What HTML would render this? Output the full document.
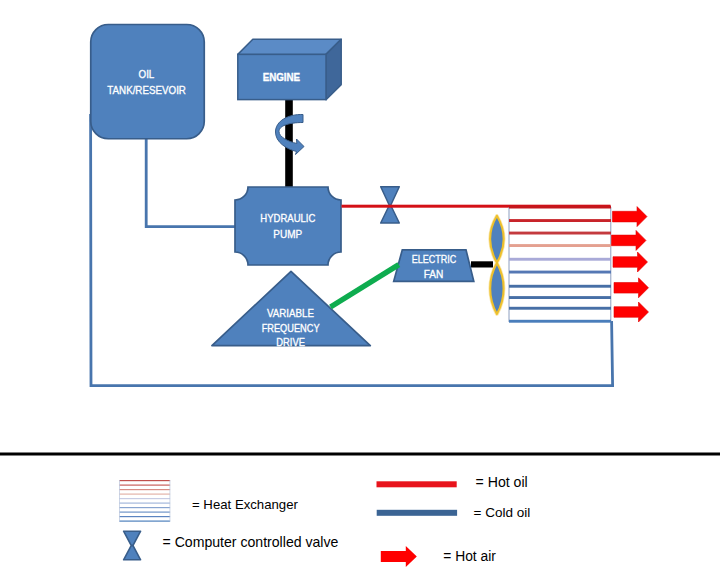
<!DOCTYPE html>
<html>
<head>
<meta charset="utf-8">
<title>Hydraulic fan drive diagram</title>
<style>
html,body{margin:0;padding:0;background:#fff;}
body{width:720px;height:568px;overflow:hidden;}
svg{display:block;}
text{font-family:"Liberation Sans",sans-serif;}
.w{fill:#fff;font-size:10.2px;text-anchor:middle;stroke:#fff;stroke-width:0.3;}
.k{fill:#000;font-size:13.2px;}
.s{fill:#4f81bd;stroke:#385d8a;stroke-width:1.7;stroke-linejoin:miter;}
.p{fill:none;stroke:#4875ad;stroke-width:2.8;}
</style>
</head>
<body>
<svg width="720" height="568" viewBox="0 0 720 568">
<rect x="0" y="0" width="720" height="568" fill="#fff"/>

<!-- cold oil pipes -->
<path class="p" d="M90.6,114 L91,385.6 H612.6 L611.6,321"/>
<path class="p" d="M146.2,139 V226.6 H235"/>

<!-- oil tank -->
<rect class="s" x="90.75" y="24.5" width="113.5" height="114.25" rx="17.5" ry="17.5"/>
<text class="w" transform="translate(146.4,77.6) scale(0.96,1)">OIL</text>
<text class="w" transform="translate(146.6,93.6) scale(0.96,1)">TANK/RESEVOIR</text>

<!-- shaft -->
<rect x="285.2" y="99" width="7.6" height="88" fill="#000"/>

<!-- engine cube -->
<path d="M237.8,54.4 L252.8,39.2 H341.2 L326,54.4 Z" fill="#5b8bc6" stroke="#385d8a" stroke-width="1.5" stroke-linejoin="round"/>
<path d="M326,54.4 L341.2,39.2 V84.6 L326,99.6 Z" fill="#3f679a" stroke="#385d8a" stroke-width="1.5" stroke-linejoin="round"/>
<rect x="237.8" y="54.4" width="88.2" height="45.2" fill="#4f81bd" stroke="#385d8a" stroke-width="1.5"/>
<text class="w" transform="translate(281.4,81.3) scale(0.96,1)" style="font-weight:bold">ENGINE</text>

<!-- rotation arrow -->
<path d="M303,114.5 C288,114 275.5,121 275.5,132 C275.5,142 286,149 296.5,151.5 L295.5,154.5 L304,146.5 L296.5,139 L296.8,143.5 C288,141.5 279,137 279,131.5 C279,126 288,122.5 303,122.5 Z" fill="#4f81bd" stroke="#385d8a" stroke-width="1"/>

<!-- hot oil line -->

<!-- hydraulic pump -->
<path class="s" d="M248,187 H328 A13,13 0 0 0 341,200 V252 A13,13 0 0 0 328,265 H248 A13,13 0 0 0 235,252 V200 A13,13 0 0 0 248,187 Z"/>
<text class="w" transform="translate(287.8,222.3) scale(0.936,1)">HYDRAULIC</text>
<text class="w" transform="translate(287.7,238.2) scale(0.98,1)">PUMP</text>

<!-- valve -->
<path class="s" style="stroke-width:1.5;stroke-linejoin:round" d="M380.7,186.8 H399.3 L390.6,205.5 H389.4 Z M380.7,223 H399.3 L390.6,205 H389.4 Z"/>
<rect x="341.5" y="204.7" width="269" height="3" fill="#d41016"/>


<!-- VFD triangle -->
<path class="s" style="stroke-linejoin:round" d="M291,271.3 L370.3,345.6 H211.9 Z"/>
<text class="w" transform="translate(290.5,316.7) scale(0.955,1)">VARIABLE</text>
<text class="w" transform="translate(290.6,331.6) scale(0.905,1)">FREQUENCY</text>
<text class="w" transform="translate(290.6,345.5) scale(0.92,1)">DRIVE</text>


<!-- fan shaft -->
<rect x="471" y="261.3" width="22" height="6.2" fill="#000"/>

<!-- electric fan -->
<path class="s" d="M402.3,249.8 H466 L473.8,281.3 H393.7 Z"/>
<text class="w" transform="translate(434,262.6) scale(0.885,1)">ELECTRIC</text>
<text class="w" transform="translate(433.5,277.5) scale(0.99,1)">FAN</text>

<!-- green line -->
<line x1="330.5" y1="307" x2="398.8" y2="264.6" stroke="#0eac4f" stroke-width="5.4"/>

<!-- fan blades -->
<g stroke-linejoin="round">
<path d="M496.9,215.8 C488,231 488,247 496.9,262.6 C505.8,247 505.8,231 496.9,215.8 Z M496.9,263 C488,279 488,298 496.9,314 C505.8,298 505.8,279 496.9,263 Z" fill="none" stroke="#f6d465" stroke-width="3.6" opacity="0.55"/>
<path d="M496.9,215.8 C488,231 488,247 496.9,262.6 C505.8,247 505.8,231 496.9,215.8 Z M496.9,263 C488,279 488,298 496.9,314 C505.8,298 505.8,279 496.9,263 Z" fill="#4f81bd" stroke="#eec02c" stroke-width="2"/>
</g>

<!-- heat exchanger -->
<g>
<line x1="509" y1="207" x2="509" y2="322" stroke="#7f93b8" stroke-width="0.9"/>
<line x1="610.8" y1="207" x2="610.8" y2="322" stroke="#7f93b8" stroke-width="0.9"/>
<rect x="509" y="205.6" width="102" height="2.9" fill="#c4161c"/>
<rect x="509" y="219.1" width="102" height="2.9" fill="#c8242a"/>
<rect x="509" y="231.6" width="102" height="2.9" fill="#c43a3e"/>
<rect x="509" y="244.1" width="102" height="2.9" fill="#e4a090"/>
<rect x="509" y="257.8" width="102" height="2.9" fill="#a9aad8"/>
<rect x="509" y="270.6" width="102" height="2.9" fill="#5578b4"/>
<rect x="509" y="284.8" width="102" height="2.9" fill="#476fa6"/>
<rect x="509" y="296.1" width="102" height="2.9" fill="#476fa6"/>
<rect x="509" y="306.8" width="102" height="2.9" fill="#476fa6"/>
<rect x="509" y="319.8" width="102" height="2.9" fill="#4a7ebb"/>
</g>

<!-- hot air arrows -->
<g fill="#ff0000" stroke="#e00000" stroke-width="0.6">
<path id="ar" d="M0,-5.3 H24.5 V-10 L34.5,0 L24.5,10 V5.3 H0 Z" transform="translate(612.5,216.6)"/>
<path d="M0,-5.3 H24.5 V-10 L34.5,0 L24.5,10 V5.3 H0 Z" transform="translate(611.5,240.4)"/>
<path d="M0,-5.3 H24.5 V-10 L34.5,0 L24.5,10 V5.3 H0 Z" transform="translate(613,262)"/>
<path d="M0,-5.3 H24.5 V-10 L34.5,0 L24.5,10 V5.3 H0 Z" transform="translate(614,287.8)"/>
<path d="M0,-5.3 H24.5 V-10 L34.5,0 L24.5,10 V5.3 H0 Z" transform="translate(614,312)"/>
</g>

<!-- divider -->
<rect x="0" y="452.5" width="720" height="3" fill="#000"/>

<!-- legend: heat exchanger -->
<g>
<rect x="119.3" y="480.0" width="50.8" height="1.2" fill="#c0504d"/>
<rect x="119.3" y="484.5" width="50.8" height="1.2" fill="#c9605c"/>
<rect x="119.3" y="489.0" width="50.8" height="1.2" fill="#d78c84"/>
<rect x="119.3" y="493.5" width="50.8" height="1.2" fill="#e4b4aa"/>
<rect x="119.3" y="498.0" width="50.8" height="1.2" fill="#c8cce4"/>
<rect x="119.3" y="502.5" width="50.8" height="1.2" fill="#a4b8dc"/>
<rect x="119.3" y="507.0" width="50.8" height="1.2" fill="#88a4d0"/>
<rect x="119.3" y="511.5" width="50.8" height="1.2" fill="#7094c8"/>
<rect x="119.3" y="516.0" width="50.8" height="1.2" fill="#5b84c0"/>
<rect x="119.3" y="520.5" width="50.8" height="1.2" fill="#4f81bd"/>
<line x1="119.5" y1="480" x2="119.5" y2="521.5" stroke="#b8c4dc" stroke-width="0.7"/>
<line x1="169.9" y1="480" x2="169.9" y2="521.5" stroke="#b8c4dc" stroke-width="0.7"/>
</g>
<text class="k" x="192" y="509.4">= Heat Exchanger</text>

<!-- legend: valve -->
<path class="s" style="stroke-width:1.6;stroke-linejoin:round" d="M123.6,531.2 H140.6 L132.9,545.6 H131.3 Z M123.6,559.8 H140.6 L132.9,545.4 H131.3 Z"/>
<text class="k" x="162.5" y="547.2" style="font-size:14.1px">= Computer controlled valve</text>

<!-- legend: lines -->
<rect x="376.5" y="481.3" width="80.2" height="6" fill="#e8141c"/>
<text class="k" x="475.6" y="486.6" style="font-size:14.1px">= Hot oil</text>
<rect x="376.7" y="509.8" width="80.4" height="6" fill="#3b6494"/>
<text class="k" x="473.5" y="516.6" style="font-size:13.5px">= Cold oil</text>

<!-- legend: arrow -->
<path d="M0,-5.5 H25 V-10.5 L36,0 L25,10.5 V5.5 H0 Z" transform="translate(380.8,556.6)" fill="#ff0000"/>
<text class="k" x="443.3" y="561" style="font-size:13.8px">= Hot air</text>
</svg>
</body>
</html>
